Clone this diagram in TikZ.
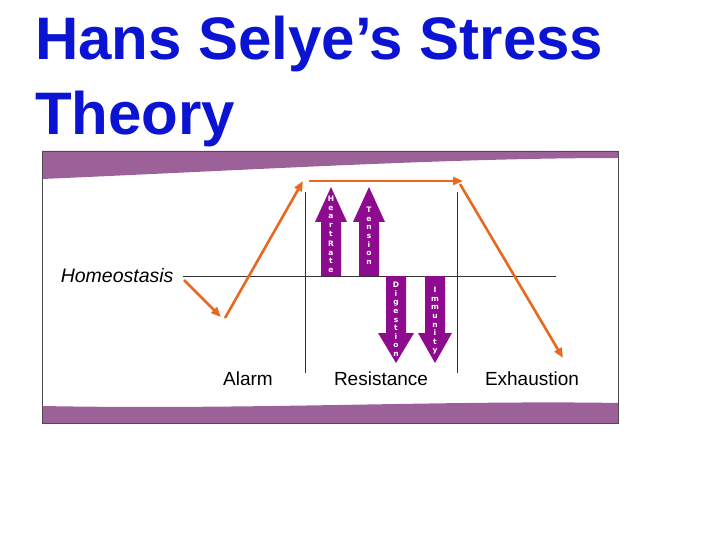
\documentclass[tikz,border=0pt]{standalone}
\usepackage{fontspec}
\setmainfont{Liberation Sans}
\newfontfamily\lbl{DejaVu Sans}
\usetikzlibrary{arrows.meta}
\definecolor{band}{HTML}{9C6199}
\definecolor{purp}{HTML}{8E0A8E}
\definecolor{orng}{HTML}{E8681E}
\definecolor{ttl}{HTML}{0A14D2}
\tikzset{
  oarrow/.style={orng,line width=2.6pt,-{Triangle[length=10pt,width=8pt]}},
  thin/.style={black!80,line width=0.8pt},
  purpup/.style={fill=purp,draw=none},
  vtext/.style={white,font=\lbl\bfseries\fontsize{7.5}{8.6}\selectfont,align=center,inner sep=0pt},
  stage/.style={font=\fontsize{19}{19}\selectfont,anchor=base},
  ttlstyle/.style={ttl,font=\bfseries\fontsize{60}{75}\selectfont,anchor=base west,inner sep=0pt}
}
\begin{document}
\begin{tikzpicture}[x=1pt,y=-1pt]
\useasboundingbox (0,0) rectangle (720,540);
% title
\node[ttlstyle] (title1) at (35,60) {Hans Selye{\char"27}s Stress};
\node[ttlstyle] (title2) at (35,135) {Theory};
% frame
\fill[band] (42,151) -- (618,151) -- (618,158) .. controls (450,158) and (250,170) .. (42,179) -- cycle;
\fill[band] (42,406) .. controls (250,410) and (450,400) .. (618,403) -- (618,423) -- (42,423) -- cycle;
\draw[black!70,line width=0.8pt] (42,151) rectangle (618,423);
% lines
\coordinate (h0) at (183,276); \coordinate (h1) at (556,276);
\draw[thin] (h0) -- (h1);
\coordinate (v1a) at (305,192); \coordinate (v1b) at (305,373);
\coordinate (v2a) at (457,192); \coordinate (v2b) at (457,373);
\draw[thin] (v1a) -- (v1b);
\draw[thin] (v2a) -- (v2b);
% purple arrows
\fill[purpup] (321,276) -- (321,222) -- (315,222) -- (331,187) -- (347,222) -- (341,222) -- (341,276) -- cycle;
\fill[purpup] (359,276) -- (359,222) -- (353,222) -- (369,187) -- (385,222) -- (379,222) -- (379,276) -- cycle;
\fill[purpup] (386,276) -- (386,333) -- (378,333) -- (396,363) -- (414,333) -- (406,333) -- (406,276) -- cycle;
\fill[purpup] (425,276) -- (425,333) -- (418,333) -- (435,363) -- (452,333) -- (445,333) -- (445,276) -- cycle;
\node[vtext,anchor=north] (hr) at (331,196) {H\\e\\a\\r\\t\\[2pt]R\\a\\t\\e};
\node[vtext,anchor=north] (te) at (369,207) {T\\e\\n\\s\\i\\o\\n};
\node[vtext,anchor=north] (di) at (396,282) {D\\i\\g\\e\\s\\t\\i\\o\\n};
\node[vtext,anchor=north] (im) at (435,287) {I\\m\\m\\u\\n\\i\\t\\y};
% orange path
\coordinate (p0) at (184,280); \coordinate (p1) at (221,317);
\coordinate (p2) at (225,318); \coordinate (p3) at (303,181);
\coordinate (p4) at (309,181); \coordinate (p5) at (463,181);
\coordinate (p6) at (460,184); \coordinate (p7) at (563,358);
\draw[oarrow] (p0) -- (p1);
\draw[oarrow] (p2) -- (p3);
\draw[oarrow] (p4) -- (p5);
\draw[oarrow] (p6) -- (p7);
% labels
\node[font=\itshape\fontsize{19.5}{20}\selectfont,anchor=east] (homeo) at (177,276) {Homeostasis};
\node[stage] (alarm) at (248,385) {Alarm};
\node[stage] (res) at (381,385) {Resistance};
\node[stage] (exh) at (532,385) {Exhaustion};
\end{tikzpicture}
\end{document}
